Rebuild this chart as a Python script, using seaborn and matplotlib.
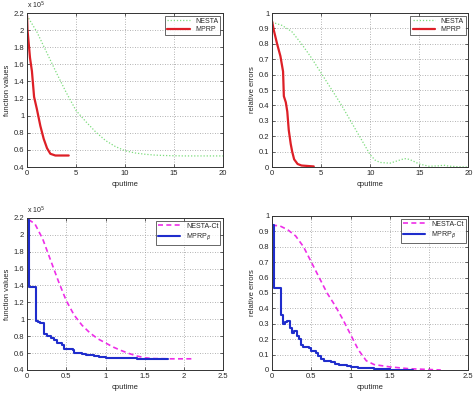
import matplotlib
matplotlib.use("Agg", force=True)
import matplotlib.pyplot as plt
from matplotlib.ticker import FuncFormatter, MultipleLocator
import pandas as pd
import seaborn as sns

# top row: cputime 0-20
nesta_t = [0, 1, 2, 3, 4, 5, 6, 7, 8, 9, 10, 11, 12, 13, 14, 15, 16, 17, 18, 19, 20]
nesta_f = [2.17, 1.98, 1.74, 1.50, 1.27, 1.06, 0.93, 0.81, 0.71, 0.64, 0.59, 0.565,
           0.55, 0.54, 0.535, 0.532, 0.53, 0.53, 0.53, 0.53, 0.53]
mprp_t = [0, 0.05, 0.17, 0.3, 0.5, 0.72, 1.0, 1.36, 1.7, 2.04, 2.38, 2.89, 4.25]
mprp_f = [2.17, 2.0, 1.85, 1.68, 1.52, 1.22, 1.08, 0.88, 0.73, 0.62, 0.555, 0.535, 0.535]

nesta_err_t = [0, 1, 2, 3, 4, 5, 6, 7, 8, 9, 10, 10.5, 11, 12, 13, 13.5, 14, 15, 16,
               17, 17.5, 18, 19, 20]
nesta_err = [0.94, 0.92, 0.88, 0.80, 0.71, 0.61, 0.51, 0.41, 0.30, 0.19, 0.08, 0.045,
             0.03, 0.025, 0.045, 0.055, 0.05, 0.02, 0.005, 0.008, 0.012, 0.006, 0.002, 0.0]
mprp_err_t = [0, 0.17, 0.51, 0.85, 1.12, 1.2, 1.4, 1.55, 1.7, 1.9, 2.05, 2.25, 2.6, 3.0, 4.25]
mprp_err = [0.946, 0.89, 0.80, 0.72, 0.62, 0.46, 0.42, 0.36, 0.24, 0.15, 0.10, 0.05,
            0.02, 0.01, 0.004]

# bottom row: cputime 0-2.5
nestact_t = [0.02, 0.1, 0.2, 0.3, 0.4, 0.5, 0.6, 0.7, 0.8, 0.9, 1.0, 1.1, 1.2, 1.3,
             1.4, 1.5, 1.6, 1.8, 2.1]
nestact_f = [2.18, 2.13, 1.95, 1.70, 1.45, 1.22, 1.05, 0.93, 0.84, 0.77, 0.72, 0.67,
             0.63, 0.595, 0.565, 0.545, 0.535, 0.532, 0.532]
mprpb_t = [0, 0.02, 0.12, 0.14, 0.17, 0.22, 0.25, 0.3, 0.35, 0.38, 0.45, 0.47, 0.58,
           0.6, 0.7, 0.75, 0.85, 0.92, 1.0, 1.2, 1.4, 1.8]
mprpb_f = [2.17, 1.38, 0.98, 0.97, 0.96, 0.82, 0.80, 0.78, 0.76, 0.72, 0.70, 0.645,
           0.64, 0.605, 0.59, 0.575, 0.565, 0.555, 0.545, 0.54, 0.535, 0.535]

nestact_err_t = [0, 0.1, 0.2, 0.3, 0.4, 0.5, 0.6, 0.7, 0.8, 0.9, 1.0, 1.1, 1.2, 1.3,
                 1.5, 1.75, 2.0, 2.15]
nestact_err = [0.94, 0.935, 0.91, 0.87, 0.80, 0.70, 0.60, 0.50, 0.42, 0.33, 0.23,
               0.13, 0.06, 0.035, 0.02, 0.008, 0.003, 0.0]
mprpb_err_t = [0, 0.02, 0.11, 0.14, 0.17, 0.19, 0.23, 0.25, 0.28, 0.32, 0.34, 0.37,
               0.4, 0.47, 0.5, 0.56, 0.58, 0.62, 0.66, 0.75, 0.8, 0.85, 0.95, 1.0,
               1.1, 1.3, 1.5, 1.8]
mprpb_err = [0.94, 0.535, 0.36, 0.30, 0.31, 0.32, 0.27, 0.24, 0.25, 0.22, 0.20, 0.16,
             0.15, 0.14, 0.12, 0.11, 0.09, 0.07, 0.06, 0.05, 0.04, 0.03, 0.025, 0.02,
             0.01, 0.005, 0.002, 0.0]

GREEN = "#7ddc7d"
RED = "#dd1f26"
MAGENTA = "#ee2ee8"
BLUE = "#1f2dcc"
FS = 5.5

sns.set_style("ticks")
plt.rcParams["font.family"] = ["Liberation Sans", "DejaVu Sans"]
plt.rcParams["mathtext.fontset"] = "dejavusans"


def draw(ax, series, xmax, xstep, ylim, ystep, ylabel, scale_note=False):
    for x, y, label, color, style in series:
        frame = pd.DataFrame({"t": x, "v": y})
        kw = dict(color=color, label=label, estimator=None, sort=False, ax=ax)
        if style == "dot":
            sns.lineplot(data=frame, x="t", y="v", linestyle=(0, (1, 1.5)), linewidth=0.9, **kw)
        elif style == "dash":
            sns.lineplot(data=frame, x="t", y="v", linestyle=(0, (3, 2)), linewidth=1.2, **kw)
        elif style == "step":
            sns.lineplot(data=frame, x="t", y="v", drawstyle="steps-post", linewidth=1.5, **kw)
        else:
            sns.lineplot(data=frame, x="t", y="v", linewidth=1.6, **kw)
    ax.set_xlim(0, xmax)
    ax.set_ylim(*ylim)
    ax.xaxis.set_major_locator(MultipleLocator(xstep))
    ax.yaxis.set_major_locator(MultipleLocator(ystep))
    fmt = FuncFormatter(lambda v, _: f"{round(v, 6):g}")
    ax.xaxis.set_major_formatter(fmt)
    ax.yaxis.set_major_formatter(fmt)
    ax.grid(True, linestyle=(0, (1, 2)), linewidth=0.6, color="#9a9a9a")
    ax.tick_params(direction="in", top=True, right=True, length=2, width=0.5,
                   labelsize=FS, pad=2)
    for sp in ax.spines.values():
        sp.set_linewidth(0.7)
        sp.set_color("#333333")
    ax.set_xlabel("cputime", fontsize=FS, labelpad=3)
    ax.set_ylabel(ylabel, fontsize=FS, labelpad=2)
    if scale_note:
        ax.text(0.0, 1.01, r"x 10$^5$", transform=ax.transAxes, ha="left", va="bottom",
                fontsize=FS - 0.5)
    leg = ax.legend(loc="upper right", fontsize=FS - 0.5, frameon=True, fancybox=False,
                    handlelength=3.2, borderpad=0.3, labelspacing=0.2, borderaxespad=0.4)
    leg.get_frame().set_edgecolor("#222222")
    leg.get_frame().set_linewidth(0.6)


fig = plt.figure(figsize=(4.74, 3.94), dpi=100)
ax1 = fig.add_axes([0.057, 0.576, 0.414, 0.391])
ax2 = fig.add_axes([0.574, 0.576, 0.414, 0.391])
ax3 = fig.add_axes([0.057, 0.061, 0.414, 0.386])
ax4 = fig.add_axes([0.574, 0.061, 0.414, 0.391])

draw(ax1, [(nesta_t, nesta_f, "NESTA", GREEN, "dot"),
           (mprp_t, mprp_f, "MPRP", RED, "solid")],
     20, 5, (0.4, 2.2), 0.2, "function values", scale_note=True)
draw(ax2, [(nesta_err_t, nesta_err, "NESTA", GREEN, "dot"),
           (mprp_err_t, mprp_err, "MPRP", RED, "solid")],
     20, 5, (0, 1), 0.1, "relative errors")
draw(ax3, [(nestact_t, nestact_f, "NESTA-Ct", MAGENTA, "dash"),
           (mprpb_t, mprpb_f, r"MPRP$_\beta$", BLUE, "step")],
     2.5, 0.5, (0.4, 2.2), 0.2, "function values", scale_note=True)
draw(ax4, [(nestact_err_t, nestact_err, "NESTA-Ct", MAGENTA, "dash"),
           (mprpb_err_t, mprpb_err, r"MPRP$_\beta$", BLUE, "step")],
     2.5, 0.5, (0, 1), 0.1, "relative errors")

fig.savefig("out.png", dpi=100)
plt.close(fig)
